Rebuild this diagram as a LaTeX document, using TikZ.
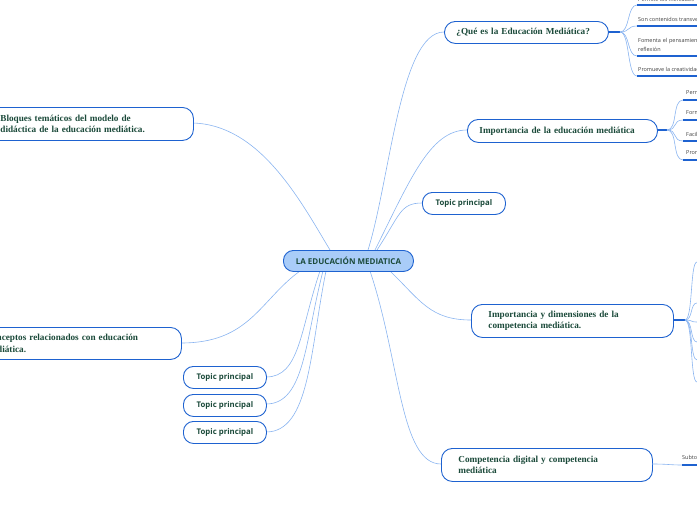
\documentclass[tikz,border=0pt]{standalone}
\usepackage{fontspec}
\setmainfont{Liberation Serif}
\newfontfamily\osans{Open Sans}
\definecolor{bdr}{HTML}{1E62D0}
\definecolor{lnk}{HTML}{8AB4F0}
\definecolor{txt}{HTML}{1B4A3A}
\definecolor{cfill}{HTML}{A9CCF8}
\begin{document}
\begin{tikzpicture}[x=1pt,y=-1pt,
 topic/.style={draw=bdr,line width=0.9pt,rounded corners=11pt,fill=white,text=txt,font=\fontsize{9.2}{11.5}\selectfont\bfseries,align=left,anchor=north west,inner ysep=0pt},
 tp/.style={draw=bdr,line width=0.9pt,rounded corners=10pt,fill=white,text=txt,font=\osans\fontsize{7.8}{9}\selectfont\bfseries,anchor=north west,inner ysep=0pt,minimum height=22pt,minimum width=83pt},
 sub/.style={font=\osans\fontsize{5.5}{9}\selectfont,text=black!75,anchor=west,align=left,inner sep=0pt},
 lk/.style={draw=lnk,line width=0.6pt},
 ul/.style={draw=bdr,line width=1.2pt}]
\useasboundingbox (0,0) rectangle (697,520);
\clip (0,0) rectangle (697,520);
% links from center
\draw[lk] (330,250) .. controls (300,200) and (260,125) .. (193,123);
\draw[lk] (300,271) .. controls (260,300) and (250,343) .. (181,343);
\draw[lk] (320,271) .. controls (300,330) and (300,377) .. (266,377);
\draw[lk] (323,271) .. controls (305,340) and (305,404) .. (266,404);
\draw[lk] (326,271) .. controls (310,350) and (310,432) .. (266,432);
\draw[lk] (368,250) .. controls (390,180) and (400,32) .. (444,32);
\draw[lk] (375,250) .. controls (410,180) and (430,130) .. (467,130);
\draw[lk] (377,250) .. controls (400,215) and (400,203) .. (422,203);
\draw[lk] (390,271) .. controls (420,300) and (430,320) .. (471,320);
\draw[lk] (370,271) .. controls (400,360) and (400,464) .. (441,464);
% nodes
\node[draw=bdr,line width=0.9pt,rounded corners=10pt,fill=cfill,text=txt,font=\osans\fontsize{8}{9}\selectfont\bfseries,minimum width=130pt,minimum height=21pt,anchor=north west,inner sep=0pt] (ctr) at (283,250) {LA EDUCACIÓN MEDIATICA};
\node[topic,minimum height=22pt,inner xsep=12pt,text width=140pt] (q) at (444,21) {¿Qué es la Educación Mediática?};
\node[topic,minimum height=23pt,inner xsep=12pt,text width=166pt] (imp) at (467,119) {Importancia de la educación mediática};
\node[tp] (t1) at (422,192) {Topic principal};
\node[topic,minimum height=33pt,inner xsep=17pt,text width=168pt] (id) at (471,304) {Importancia y dimensiones de la\\competencia mediática.};
\node[topic,minimum height=33pt,inner xsep=17pt,text width=177pt] (cd) at (441,448) {Competencia digital y competencia\\mediática};
\node[topic,minimum height=33pt,inner xsep=20pt,text width=173pt] (bq) at (-20,107) {Bloques temáticos del modelo de\\didáctica de la educación mediática.};
\node[topic,minimum height=32pt,inner xsep=10pt,text width=186pt] (cr) at (-25,327) {Conceptos relacionados con educación\\mediática.};
\node[tp] (t2) at (183,366) {Topic principal};
\node[tp] (t3) at (183,394) {Topic principal};
\node[tp] (t4) at (183,421) {Topic principal};
% subtopics of q
\coordinate (qa) at (620,32);
\draw[ul] (608,32) -- (620,32);
\foreach \y in {5,26,56,76} {\draw[lk] (qa) .. controls (630,32) and (627,\y) .. (637,\y); \draw[ul] (637,\y) -- (697,\y);}
\node[sub] (s1) at (638,-1) {Permite los mercados};
\node[sub] (s2) at (638,19) {Son contenidos transversales};
\node[sub,text width=120pt] (s3) at (638,45) {Fomenta el pensamiento crítico y la\\reflexión};
\node[sub] (s4) at (638,69) {Promueve la creatividad};
% subtopics of imp
\draw[ul] (657,130) -- (667,130);
\foreach \y in {100,120,141,160} {\draw[lk] (667,130) .. controls (678,130) and (672,\y) .. (683,\y); \draw[ul] (683,\y) -- (697,\y);}
\node[sub] at (686,93) {Permite};
\node[sub] at (686,113) {Forma};
\node[sub] at (686,134) {Facilita};
\node[sub] at (686,153) {Promueve};
% children of id
\draw[ul] (673,320) -- (685,320);
\foreach \y in {262,303,322,342,360,382} \draw[lk] (685,320) .. controls (693,320) and (690,\y) .. (697,\y);
% child of cd
\draw[lk] (652,464) .. controls (668,464) and (670,465) .. (682,465);
\draw[ul] (682,465) -- (697,465);
\node[sub] at (682,458) {Subtopic};
\end{tikzpicture}
\end{document}
